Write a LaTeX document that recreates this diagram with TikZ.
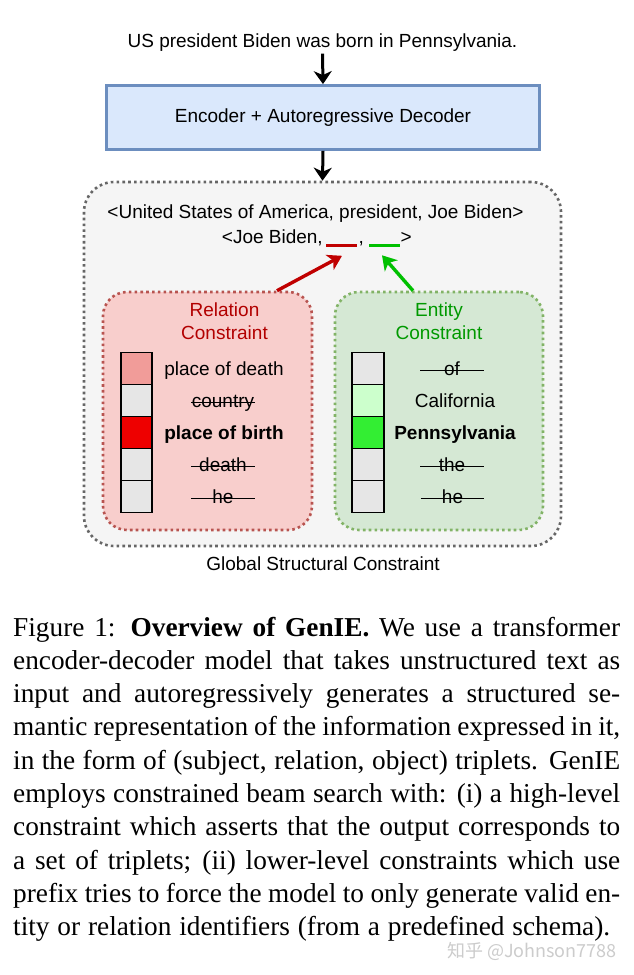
\documentclass[tikz,border=0pt]{standalone}
\usepackage{fontspec}
\setmainfont{Liberation Serif}
\newfontfamily\dfont{Liberation Sans}
\newfontfamily\wmfont{Noto Sans CJK SC}
\usetikzlibrary{arrows.meta,calc}
\definecolor{encfill}{HTML}{DAE8FC}
\definecolor{encdraw}{HTML}{6C8EBF}
\definecolor{globfill}{HTML}{F5F5F5}
\definecolor{globdraw}{HTML}{666666}
\definecolor{relfill}{HTML}{F8CECC}
\definecolor{reldraw}{HTML}{B85450}
\definecolor{entfill}{HTML}{D5E8D4}
\definecolor{entdraw}{HTML}{82B366}
\definecolor{reltext}{HTML}{B20000}
\definecolor{enttext}{HTML}{009900}
\definecolor{redarr}{HTML}{C00000}
\definecolor{greenarr}{HTML}{00C000}
\definecolor{sqgray}{HTML}{E6E6E6}
\definecolor{sqpink}{HTML}{F19C99}
\definecolor{sqred}{HTML}{EE0000}
\definecolor{sqlgreen}{HTML}{CCFFCC}
\definecolor{sqgreen}{HTML}{33EE33}
\newcommand\dsz{\dfont\fontsize{19pt}{23pt}\selectfont}
\tikzset{
  lbl/.style={font=\dsz, inner sep=0pt, anchor=base},
  arr/.style={line width=3pt, -{Stealth[length=13pt,width=18pt,inset=4pt]}},
  dotbox/.style={line width=2.6pt, dash pattern=on 2.6pt off 3.2pt},
  sq/.style={draw=black, line width=1.6pt, minimum width=31.5pt, minimum height=32pt, inner sep=0pt},
  striketxt/.style={lbl, minimum width=63pt},
  strike/.style={line width=1.4pt, black},
  blank/.style={inner sep=0pt, minimum width=31pt, minimum height=2.8pt},
  capline/.style={inner sep=0pt, anchor=base west, font=\fontsize{27.3pt}{33.3pt}\selectfont}
}
\begin{document}
\begin{tikzpicture}[x=1pt,y=-1pt]
\useasboundingbox (0,0) rectangle (633,975);
\fill[white] (0,0) rectangle (633,975);

% input and encoder
\node[lbl] (input) at (322.5,47.5) {US president Biden was born in Pennsylvania.};
\node[draw=encdraw, fill=encfill, line width=2.8pt, minimum width=433pt, minimum height=64pt, inner sep=0pt, font=\dsz] (enc) at (323,117.5) {Encoder + Autoregressive Decoder};

% global box
\node[draw=globdraw, fill=globfill, dotbox, rounded corners=30pt, minimum width=477pt, minimum height=364pt] (glob) at (322.5,364) {};

\draw[arr] ([yshift=-2pt]input.south) -- (enc.north);
\draw[arr] (enc.south) -- (glob.north);

% triplets
\node[lbl] (trip1) at (315.5,218) {<United States of America, president, Joe Biden>};
\node[lbl, anchor=base east] (trip2) at (323,243) {<Joe Biden,};
\node[blank, fill=redarr] (rblank) at (341.5,245.7) {};
\node[lbl, anchor=base west] (comma) at (358.5,243) {,};
\node[blank, fill=greenarr] (gblank) at (384,245.7) {};
\node[lbl, anchor=base west] (close) at (400.5,243) {>};

% relation and entity boxes
\node[draw=reldraw, fill=relfill, dotbox, rounded corners=24pt, minimum width=209pt, minimum height=238pt] (rel) at (207.5,411) {};
\node[draw=entdraw, fill=entfill, dotbox, rounded corners=24pt, minimum width=208pt, minimum height=238pt] (ent) at (439,411) {};

\node[lbl, text=reltext] (relt1) at (224.5,316.5) {Relation};
\node[lbl, text=reltext] (relt2) at (224.5,339) {Constraint};
\node[lbl, text=enttext] (entt1) at (439,316.5) {Entity};
\node[lbl, text=enttext] (entt2) at (439,339) {Constraint};

\draw[arr, draw=redarr, fill=redarr, line width=3.4pt, -{Stealth[length=14pt,width=17pt,inset=4pt]}] ($(rel.north)+(69.5,0)$) -- ($(rblank.south)+(0.5,8.5)$);
\draw[arr, draw=greenarr, fill=greenarr, line width=3.4pt, -{Stealth[length=14pt,width=17pt,inset=4pt]}] ($(ent.north)+(-26,0)$) -- ($(gblank.south)+(-2,8)$);

% relation squares
\node[sq, fill=sqpink] (rs1) at (136.5,368.5) {};
\node[sq, fill=sqgray] (rs2) at (136.5,400.5) {};
\node[sq, fill=sqred] (rs3) at (136.5,432.5) {};
\node[sq, fill=sqgray] (rs4) at (136.5,464.5) {};
\node[sq, fill=sqgray] (rs5) at (136.5,496.5) {};

\node[lbl] (rl1) at (224,375.7) {place of death};
\node[striketxt] (rl2) at (223,407.5) {country};
\node[lbl, font=\dsz\bfseries] (rl3) at (224,439.5) {place of birth};
\node[striketxt] (rl4) at (223,471.5) {death};
\node[striketxt] (rl5) at (223,503.5) {he};
\foreach \n in {rl2,rl4,rl5} \draw[strike] ([yshift=5pt]\n.base west) -- ([yshift=5pt]\n.base east);

% entity squares
\node[sq, fill=sqgray] (es1) at (368,368.5) {};
\node[sq, fill=sqlgreen] (es2) at (368,400.5) {};
\node[sq, fill=sqgreen] (es3) at (368,432.5) {};
\node[sq, fill=sqgray] (es4) at (368,464.5) {};
\node[sq, fill=sqgray] (es5) at (368,496.5) {};

\node[striketxt] (el1) at (452,375.7) {of};
\node[lbl] (el2) at (455,407.5) {California};
\node[lbl, font=\dsz\bfseries] (el3) at (455,439.5) {Pennsylvania};
\node[striketxt] (el4) at (452,471.5) {the};
\node[striketxt] (el5) at (452.5,503.5) {he};
\foreach \n in {el1,el4,el5} \draw[strike] ([yshift=5pt]\n.base west) -- ([yshift=5pt]\n.base east);

\node[lbl] (gsc) at (323,570) {Global Structural Constraint};

% caption
\node[capline] (c1) at (13,636) {\makebox[607pt][s]{Figure 1: \textbf{Overview of GenIE.} We use a transformer}};
\node[capline] (c2) at (13,669.3) {\makebox[607pt][s]{encoder-decoder model that takes unstructured text as}};
\node[capline] (c3) at (13,702.6) {\makebox[607pt][s]{input and autoregressively generates a structured se-}};
\node[capline] (c4) at (13,735.9) {\makebox[607pt][s]{mantic representation of the information expressed in it,}};
\node[capline] (c5) at (13,769.2) {\makebox[607pt][s]{in the form of (subject, relation, object) triplets. GenIE}};
\node[capline] (c6) at (13,802.5) {\makebox[607pt][s]{employs constrained beam search with: (i) a high-level}};
\node[capline] (c7) at (13,835.8) {\makebox[607pt][s]{constraint which asserts that the output corresponds to}};
\node[capline] (c8) at (13,869.1) {\makebox[607pt][s]{a set of triplets; (ii) lower-level constraints which use}};
\node[capline] (c9) at (13,902.4) {\makebox[607pt][s]{prefix tries to force the model to only generate valid en-}};
\node[capline] (c10) at (13,935.7) {\makebox[597pt][s]{tity or relation identifiers (from a predefined schema).}};

\node[inner sep=0pt, anchor=base east, text=black!20, font=\wmfont\fontsize{18pt}{20pt}\selectfont] (wm) at (617,957) {知乎 @Johnson7788};
\end{tikzpicture}
\end{document}
